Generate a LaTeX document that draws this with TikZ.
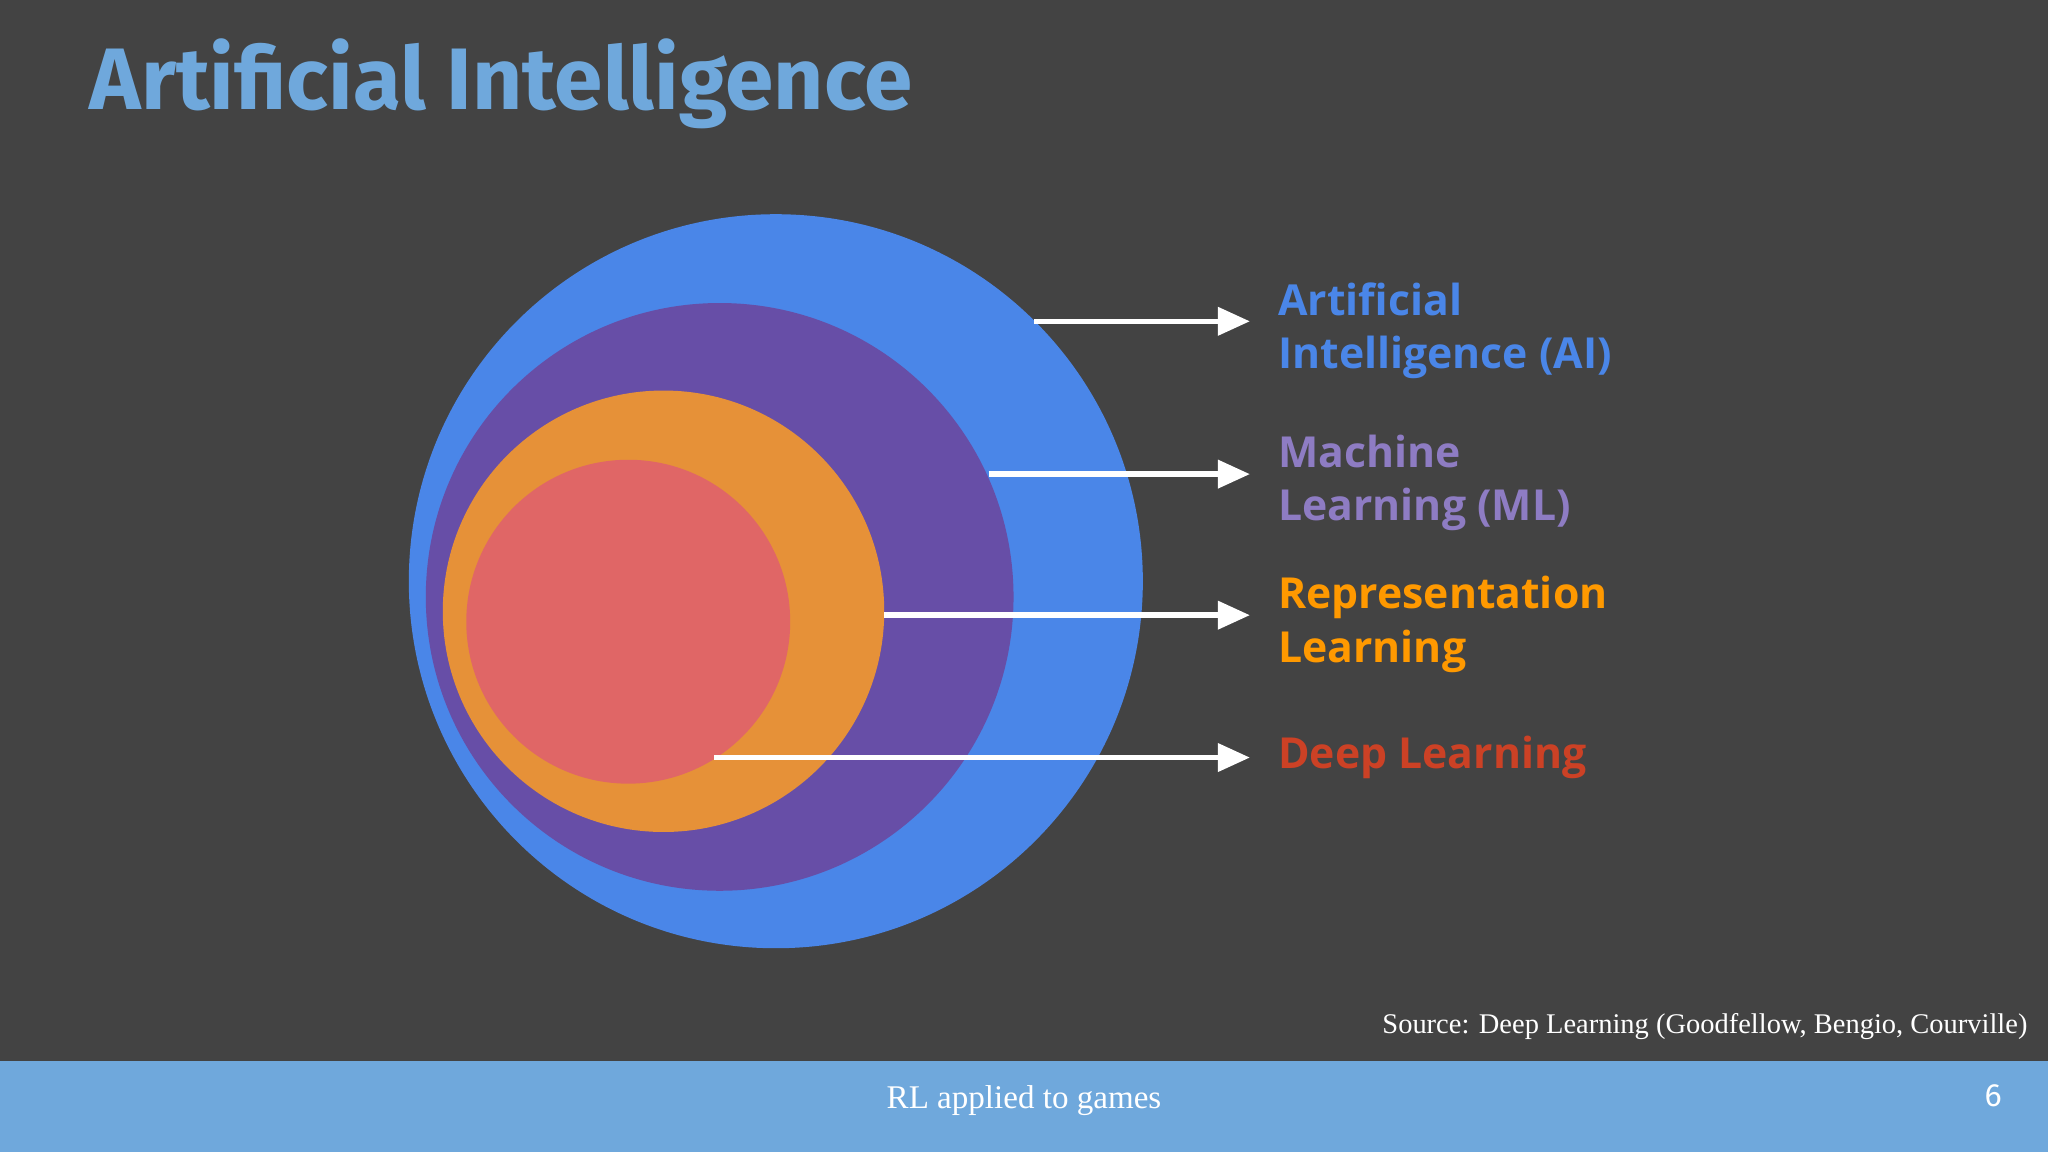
\documentclass[tikz,border=0pt]{standalone}
\usepackage{fontspec}
\setmainfont{Liberation Serif}
\newfontfamily\labfont{Open Sans}
\newfontfamily\titfont{Fira Sans}
\usetikzlibrary{arrows.meta}
\definecolor{bg}{HTML}{434343}
\definecolor{cblue}{HTML}{4A86E8}
\definecolor{cpurple}{HTML}{674EA7}
\definecolor{corange}{HTML}{E69138}
\definecolor{cred}{HTML}{E06666}
\definecolor{lblue}{HTML}{4A86E8}
\definecolor{lpurple}{HTML}{8E7CC3}
\definecolor{lorange}{HTML}{FF9900}
\definecolor{lred}{HTML}{CC4125}
\definecolor{band}{HTML}{6FA8DC}
\begin{document}
\begin{tikzpicture}[x=0.01cm,y=-0.01cm,
  arr/.style={white,line width=1.2pt,-{Triangle[length=7pt,width=6pt]}},
  lab/.style={anchor=west,align=left,font=\labfont\bfseries\fontsize{9.3}{11.6}\selectfont,inner sep=0pt}]
\fill[bg] (0,0) rectangle (1568,882);
\useasboundingbox (0,0) rectangle (1568,882);
\fill[band] (0,812) rectangle (1568,882);
\node[anchor=west,text=band,font=\titfont\bfseries\fontsize{19}{22}\selectfont,inner sep=0pt] (title) at (68,64) {Artificial Intelligence};
\fill[cblue] (594,445) circle (281);
\fill[cpurple] (551,457) circle (225);
\fill[corange] (508,468) circle (169);
\fill[cred] (481,476) circle (124);
\coordinate (s1) at (792,246); \coordinate (s2) at (757,363);
\coordinate (s3) at (677,471); \coordinate (s4) at (547,580);
\coordinate (e1) at (957,246); \coordinate (e2) at (957,363);
\coordinate (e3) at (957,471); \coordinate (e4) at (957,580);
\draw[arr] (s1) -- (e1); \draw[arr] (s2) -- (e2);
\draw[arr] (s3) -- (e3); \draw[arr] (s4) -- (e4);
\node[lab,text=lblue] (ai) at (978,253) {Artificial\\Intelligence (AI)};
\node[lab,text=lpurple] (ml) at (978,370) {Machine\\Learning (ML)};
\node[lab,text=lorange] (rl) at (978,478) {Representation\\Learning};
\node[lab,text=lred] (dl) at (978,580) {Deep Learning};
\node[anchor=east,text=white,font=\fontsize{6.2}{7}\selectfont,inner sep=0pt] (src) at (1553,786) {Source: Deep Learning (Goodfellow, Bengio, Courville)};
\node[text=white,font=\fontsize{7.2}{8}\selectfont,inner sep=0pt] (ft) at (784,843) {RL applied to games};
\node[text=white,font=\titfont\fontsize{7}{8}\selectfont,inner sep=0pt] (pg) at (1526,839) {6};
\end{tikzpicture}
\end{document}
